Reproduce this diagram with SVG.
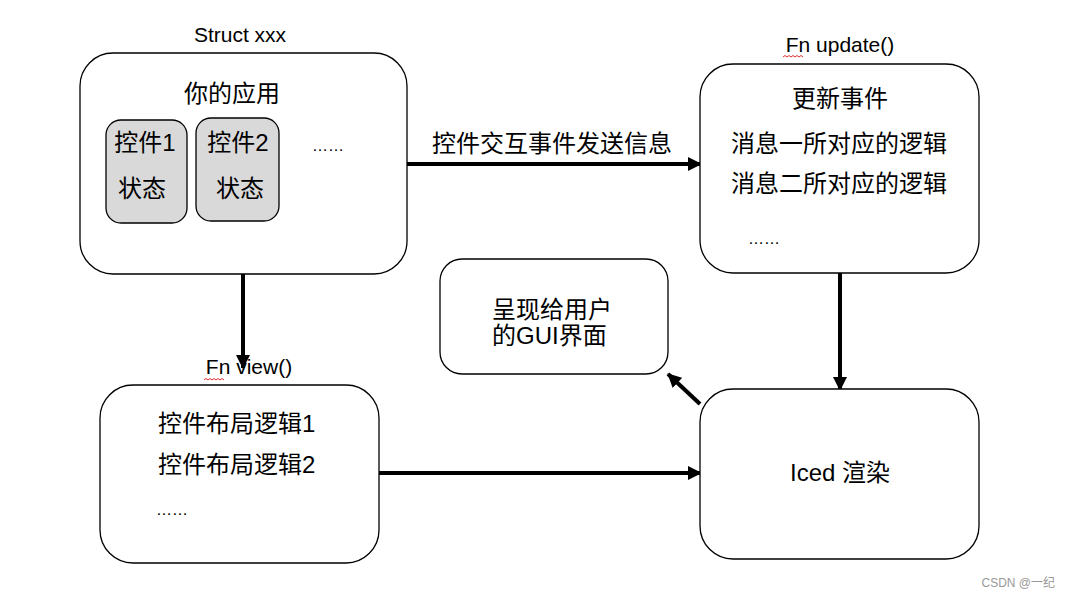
<svg xmlns="http://www.w3.org/2000/svg" width="1069" height="598" viewBox="0 0 1069 598">
<style>
text{font-family:"Liberation Sans","Noto Sans CJK SC",sans-serif;fill:#000}
.box{fill:#fff;stroke:#000;stroke-width:1.3}
.sub{fill:#d9d9d9;stroke:#000;stroke-width:1.3}
.cjk{font-size:24px}
.lat{font-size:21px}
.dots{font-size:16px}
.conn{stroke:#000;stroke-width:4;fill:none}
.squig{stroke:#e03030;stroke-width:1;fill:none}
</style>
<defs>
<marker id="ah" markerUnits="userSpaceOnUse" markerWidth="14" markerHeight="14" refX="13" refY="7" orient="auto">
<path d="M0,0 L14,7 L0,14 Z" fill="#000"/>
</marker>
</defs>
<rect width="1069" height="598" fill="#fff"/>

<g id="connectors">
<line class="conn" x1="407" y1="164" x2="701" y2="164" marker-end="url(#ah)"/>
<line class="conn" x1="243" y1="274" x2="243" y2="368" marker-end="url(#ah)"/>
<line class="conn" x1="840" y1="273" x2="840" y2="390" marker-end="url(#ah)"/>
<line class="conn" x1="379" y1="473" x2="701" y2="473" marker-end="url(#ah)"/>
<line class="conn" x1="700" y1="404" x2="668" y2="374" marker-end="url(#ah)"/>
<text x="552" y="152" class="cjk" text-anchor="middle">控件交互事件发送信息</text>
</g>

<g id="node-app">
<text x="240" y="42" class="lat" text-anchor="middle">Struct xxx</text>
<rect class="box" x="80" y="53" width="327" height="221" rx="33"/>
<text x="232" y="102" class="cjk" text-anchor="middle">你的应用</text>
<g id="node-widget1">
<rect class="sub" x="106" y="120" width="81" height="103" rx="15"/>
<text x="145" y="151" class="cjk" text-anchor="middle">控件1</text>
<text x="142" y="197" class="cjk" text-anchor="middle">状态</text>
</g>
<g id="node-widget2">
<rect class="sub" x="196" y="118" width="83" height="103" rx="15"/>
<text x="238" y="151" class="cjk" text-anchor="middle">控件2</text>
<text x="240" y="197" class="cjk" text-anchor="middle">状态</text>
</g>
<text x="312" y="151" class="dots">……</text>
</g>

<g id="node-update">
<text x="840" y="52" class="lat" text-anchor="middle">Fn update()</text>
<path class="squig" d="M783,57 l2,-1.5 l2,1.5 l2,-1.5 l2,1.5 l2,-1.5 l2,1.5 l2,-1.5 l2,1.5 l2,-1.5 l2,1.5"/>
<rect class="box" x="700" y="64" width="279" height="209" rx="33"/>
<text x="840" y="107" class="cjk" text-anchor="middle">更新事件</text>
<text x="839" y="152" class="cjk" text-anchor="middle">消息一所对应的逻辑</text>
<text x="839" y="192" class="cjk" text-anchor="middle">消息二所对应的逻辑</text>
<text x="748" y="244" class="dots">……</text>
</g>

<g id="node-gui">
<rect class="box" x="440" y="259" width="228" height="115" rx="22"/>
<text x="492" y="318" class="cjk">呈现给用户</text>
<text x="492" y="344" class="cjk">的GUI界面</text>
</g>

<g id="node-view">
<text x="249" y="374" class="lat" text-anchor="middle">Fn view()</text>
<path class="squig" d="M204,380 l2,-1.5 l2,1.5 l2,-1.5 l2,1.5 l2,-1.5 l2,1.5 l2,-1.5 l2,1.5 l2,-1.5 l2,1.5"/>
<rect class="box" x="100" y="385" width="279" height="178" rx="33"/>
<text x="158" y="432" class="cjk">控件布局逻辑1</text>
<text x="158" y="473" class="cjk">控件布局逻辑2</text>
<text x="156" y="515" class="dots">……</text>
</g>

<g id="node-iced">
<rect class="box" x="700" y="389" width="279" height="170" rx="33"/>
<text x="840" y="481" class="cjk" text-anchor="middle">Iced 渲染</text>
</g>

<text x="1055" y="587" font-size="12" text-anchor="end" style="fill:#999">CSDN @一纪</text>
</svg>
